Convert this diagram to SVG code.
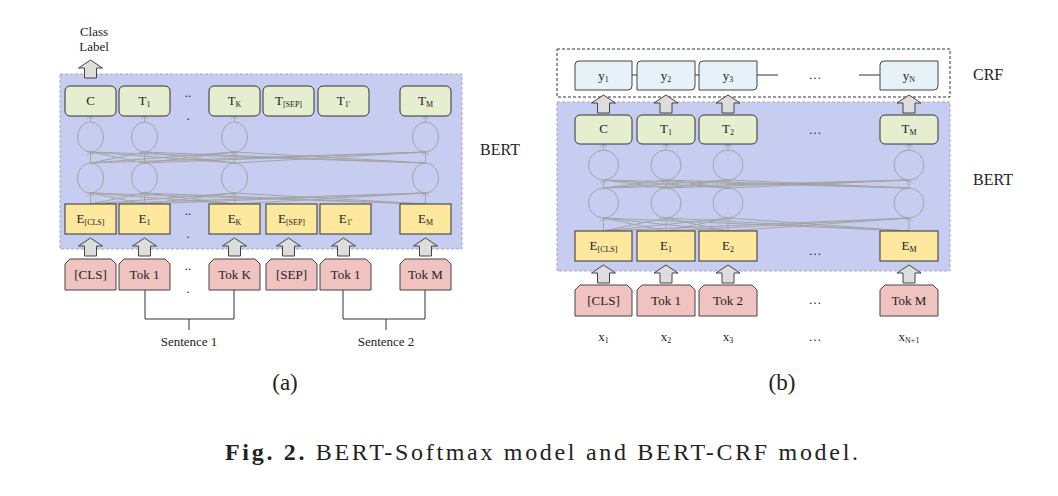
<svg xmlns="http://www.w3.org/2000/svg" xmlns:xlink="http://www.w3.org/1999/xlink" width="1058" height="496" viewBox="0 0 1058 496" font-family="'Liberation Serif', 'Times New Roman', serif">
<style>
text{font-family:'Liberation Serif','Times New Roman',serif;fill:#222}
.n{font-size:13px;text-anchor:middle}
.sub{font-size:8px}
.blue{fill:#c6cdf0;stroke:#aaa;stroke-dasharray:3,2}
.tb{fill:#e5efcf;stroke:#333;stroke-width:1}
.eb{fill:#fde89e;stroke:#333;stroke-width:1}
.kb{fill:#f0c2c0;stroke:#444;stroke-width:1}
.yb{fill:#e6f2f8;stroke:#444;stroke-width:1}
.c{fill:none;stroke:#a4a4a4;stroke-width:1}
.l{stroke:#a4a4a4;stroke-width:1}
.lab{font-size:16px}
</style>
<defs>
<path id="ba" d="M-6,16 V6 H-12 L0,-2 L12,6 H6 V16 Z" fill="#ddd" stroke="#444" stroke-width="1"/>
</defs>
<rect width="1058" height="496" fill="#fff"/>
<g id="a-bert"><rect class="blue" x="60" y="74" width="402" height="175"/></g>
<g id="b-crf"><rect x="557" y="49" width="393" height="48" fill="#fff" stroke="#333" stroke-dasharray="3,2"/></g>
<g id="b-bert"><rect class="blue" x="557" y="102" width="393" height="169"/></g>
<g id="connectors">
<g class="l" fill="none">
<path d="M90.5,204 L90.5,193 M90.5,204 L144.5,193 M90.5,204 L234.5,193 M90.5,204 L425.5,193 M144.5,204 L90.5,193 M144.5,204 L144.5,193 M144.5,204 L234.5,193 M144.5,204 L425.5,193 M234.5,204 L90.5,193 M234.5,204 L144.5,193 M234.5,204 L234.5,193 M234.5,204 L425.5,193 M425.5,204 L90.5,193 M425.5,204 L144.5,193 M425.5,204 L234.5,193 M425.5,204 L425.5,193"/>
<path d="M90.5,163 L90.5,152 M90.5,163 L144.5,152 M90.5,163 L234.5,152 M90.5,163 L425.5,152 M144.5,163 L90.5,152 M144.5,163 L144.5,152 M144.5,163 L234.5,152 M144.5,163 L425.5,152 M234.5,163 L90.5,152 M234.5,163 L144.5,152 M234.5,163 L234.5,152 M234.5,163 L425.5,152 M425.5,163 L90.5,152 M425.5,163 L144.5,152 M425.5,163 L234.5,152 M425.5,163 L425.5,152"/>
<path d="M90.5,122 V116 M144.5,122 V116 M234.5,122 V116 M425.5,122 V116"/>
<path d="M87,119 L90.5,116 L94,119 M141,119 L144.5,116 L148,119 M231,119 L234.5,116 L238,119 M422,119 L425.5,116 L429,119 M87,155 L90.5,152 L94,155 M141,155 L144.5,152 L148,155 M231,155 L234.5,152 L238,155 M422,155 L425.5,152 L429,155 M87,196 L90.5,193 L94,196 M141,196 L144.5,193 L148,196 M231,196 L234.5,193 L238,196 M422,196 L425.5,193 L429,196"/>
<path d="M603.5,231 L603.5,218 M603.5,231 L666,218 M603.5,231 L728,218 M603.5,231 L909,218 M666,231 L603.5,218 M666,231 L666,218 M666,231 L728,218 M666,231 L909,218 M728,231 L603.5,218 M728,231 L666,218 M728,231 L728,218 M728,231 L909,218 M909,231 L603.5,218 M909,231 L666,218 M909,231 L728,218 M909,231 L909,218"/>
<path d="M603.5,188 L603.5,180 M603.5,188 L666,180 M603.5,188 L728,180 M603.5,188 L909,180 M666,188 L603.5,180 M666,188 L666,180 M666,188 L728,180 M666,188 L909,180 M728,188 L603.5,180 M728,188 L666,180 M728,188 L728,180 M728,188 L909,180 M909,188 L603.5,180 M909,188 L666,180 M909,188 L728,180 M909,188 L909,180"/>
<path d="M603.5,150 V144 M666,150 V144 M728,150 V144 M909,150 V144"/>
<path d="M600,147 L603.5,144 L607,147 M662.5,147 L666,144 L669.5,147 M724.5,147 L728,144 L731.5,147 M905.5,147 L909,144 L912.5,147 M600,183 L603.5,180 L607,183 M662.5,183 L666,180 L669.5,183 M724.5,183 L728,180 L731.5,183 M905.5,183 L909,180 L912.5,183 M600,221 L603.5,218 L607,221 M662.5,221 L666,218 L669.5,221 M724.5,221 L728,218 L731.5,221 M905.5,221 L909,218 L912.5,221"/>
</g>
<g stroke="#333" stroke-width="1" fill="none">
<path d="M145,290 V319 H234 V290 M189,319 V330"/>
<path d="M343,290 V319 H425 V290 M386,319 V330"/>
<path d="M632,75 H637 M695,75 H699 M757,75 H778 M859,75 H880"/>
</g>
<g>
<use xlink:href="#ba" x="90.5" y="62"/>
<use xlink:href="#ba" x="90.5" y="240"/><use xlink:href="#ba" x="144.5" y="240"/><use xlink:href="#ba" x="234.5" y="240"/><use xlink:href="#ba" x="288.5" y="240"/><use xlink:href="#ba" x="343.5" y="240"/><use xlink:href="#ba" x="425.5" y="240"/>
<use xlink:href="#ba" x="603.5" y="97"/><use xlink:href="#ba" x="666" y="97"/><use xlink:href="#ba" x="728" y="97"/><use xlink:href="#ba" x="909" y="97"/>
<use xlink:href="#ba" x="603.5" y="267"/><use xlink:href="#ba" x="666" y="267"/><use xlink:href="#ba" x="728" y="267"/><use xlink:href="#ba" x="909" y="267"/>
</g>
</g>
<g id="a-circles">
<ellipse class="c" cx="90.5" cy="137" rx="13" ry="15"/><ellipse class="c" cx="144.5" cy="137" rx="13" ry="15"/><ellipse class="c" cx="234.5" cy="137" rx="13" ry="15"/><ellipse class="c" cx="425.5" cy="137" rx="13" ry="15"/>
<ellipse class="c" cx="90.5" cy="178" rx="13" ry="15"/><ellipse class="c" cx="144.5" cy="178" rx="13" ry="15"/><ellipse class="c" cx="234.5" cy="178" rx="13" ry="15"/><ellipse class="c" cx="425.5" cy="178" rx="13" ry="15"/>
</g>
<g id="a-T">
<rect class="tb" x="65" y="86" width="51" height="30" rx="5"/><text class="n" x="90.5" y="105">C</text>
<rect class="tb" x="119" y="86" width="51" height="30" rx="5"/><text class="n" x="144.5" y="105">T<tspan class="sub" dy="2">1</tspan></text>
<rect class="tb" x="209" y="86" width="51" height="30" rx="5"/><text class="n" x="234.5" y="105">T<tspan class="sub" dy="2">K</tspan></text>
<rect class="tb" x="263" y="86" width="51" height="30" rx="5"/><text class="n" x="288.5" y="105">T<tspan class="sub" dy="2">[SEP]</tspan></text>
<rect class="tb" x="318" y="86" width="51" height="30" rx="5"/><text class="n" x="343.5" y="105">T<tspan class="sub" dy="2">1'</tspan></text>
<rect class="tb" x="400" y="86" width="51" height="30" rx="5"/><text class="n" x="425.5" y="105">T<tspan class="sub" dy="2">M</tspan></text>
</g>
<g id="a-E">
<rect class="eb" x="65" y="204" width="51" height="30"/><text class="n" x="90.5" y="223">E<tspan class="sub" dy="2">[CLS]</tspan></text>
<rect class="eb" x="119" y="204" width="51" height="30"/><text class="n" x="144.5" y="223">E<tspan class="sub" dy="2">1</tspan></text>
<rect class="eb" x="209" y="204" width="51" height="30"/><text class="n" x="234.5" y="223">E<tspan class="sub" dy="2">K</tspan></text>
<rect class="eb" x="266" y="204" width="51" height="30"/><text class="n" x="291.5" y="223">E<tspan class="sub" dy="2">[SEP]</tspan></text>
<rect class="eb" x="320" y="204" width="51" height="30"/><text class="n" x="345.5" y="223">E<tspan class="sub" dy="2">1'</tspan></text>
<rect class="eb" x="400" y="204" width="51" height="30"/><text class="n" x="425.5" y="223">E<tspan class="sub" dy="2">M</tspan></text>
</g>
<g id="a-tok">
<path class="kb" d="M65,290 V264 L70,259 H111 L116,264 V290 Z"/><text class="n" x="90.5" y="279">[CLS]</text>
<path class="kb" d="M119,290 V264 L124,259 H165 L170,264 V290 Z"/><text class="n" x="144.5" y="279">Tok 1</text>
<path class="kb" d="M209,290 V264 L214,259 H255 L260,264 V290 Z"/><text class="n" x="234.5" y="279">Tok K</text>
<path class="kb" d="M266,290 V264 L271,259 H312 L317,264 V290 Z"/><text class="n" x="291.5" y="279">[SEP]</text>
<path class="kb" d="M320,290 V264 L325,259 H366 L371,264 V290 Z"/><text class="n" x="345.5" y="279">Tok 1</text>
<path class="kb" d="M400,290 V264 L405,259 H446 L451,264 V290 Z"/><text class="n" x="425.5" y="279">Tok M</text>
</g>
<g id="a-labels">
<text class="n" x="94" y="36">Class</text><text class="n" x="94" y="51">Label</text>
<text class="n" x="188" y="97">..</text><text class="n" x="188" y="120">.</text>
<text class="n" x="188" y="215">..</text><text class="n" x="188" y="238">.</text>
<text class="n" x="188" y="270">..</text><text class="n" x="188" y="293">.</text>
<text class="n" x="189" y="346">Sentence 1</text>
<text class="n" x="386" y="346">Sentence 2</text>
<text class="lab" x="480" y="155">BERT</text>
<text x="285" y="390" style="font-size:23px;text-anchor:middle">(a)</text>
</g>
<g id="b-y">
<path class="yb" d="M575,90 V65 Q575,61 579,61 H632 V86 Q632,90 628,90 Z"/><text class="n" x="603.5" y="80">y<tspan class="sub" dy="2">1</tspan></text>
<path class="yb" d="M637,90 V65 Q637,61 641,61 H695 V86 Q695,90 691,90 Z"/><text class="n" x="666" y="80">y<tspan class="sub" dy="2">2</tspan></text>
<path class="yb" d="M699,90 V65 Q699,61 703,61 H757 V86 Q757,90 753,90 Z"/><text class="n" x="728" y="80">y<tspan class="sub" dy="2">3</tspan></text>
<path class="yb" d="M880,90 V65 Q880,61 884,61 H938 V86 Q938,90 934,90 Z"/><text class="n" x="909" y="80">y<tspan class="sub" dy="2">N</tspan></text>
</g>
<g id="b-circles">
<ellipse class="c" cx="603.5" cy="165" rx="15" ry="15"/><ellipse class="c" cx="666" cy="165" rx="15" ry="15"/><ellipse class="c" cx="728" cy="165" rx="15" ry="15"/><ellipse class="c" cx="909" cy="165" rx="15" ry="15"/>
<ellipse class="c" cx="603.5" cy="203" rx="15" ry="15"/><ellipse class="c" cx="666" cy="203" rx="15" ry="15"/><ellipse class="c" cx="728" cy="203" rx="15" ry="15"/><ellipse class="c" cx="909" cy="203" rx="15" ry="15"/>
</g>
<g id="b-T">
<rect class="tb" x="575" y="115" width="57" height="29" rx="5"/><text class="n" x="603.5" y="133">C</text>
<rect class="tb" x="637" y="115" width="58" height="29" rx="5"/><text class="n" x="666" y="133">T<tspan class="sub" dy="2">1</tspan></text>
<rect class="tb" x="699" y="115" width="58" height="29" rx="5"/><text class="n" x="728" y="133">T<tspan class="sub" dy="2">2</tspan></text>
<rect class="tb" x="880" y="115" width="58" height="29" rx="5"/><text class="n" x="909" y="133">T<tspan class="sub" dy="2">M</tspan></text>
</g>
<g id="b-E">
<rect class="eb" x="575" y="231" width="57" height="30"/><text class="n" x="603.5" y="250">E<tspan class="sub" dy="2">[CLS]</tspan></text>
<rect class="eb" x="637" y="231" width="58" height="30"/><text class="n" x="666" y="250">E<tspan class="sub" dy="2">1</tspan></text>
<rect class="eb" x="699" y="231" width="58" height="30"/><text class="n" x="728" y="250">E<tspan class="sub" dy="2">2</tspan></text>
<rect class="eb" x="880" y="231" width="58" height="30"/><text class="n" x="909" y="250">E<tspan class="sub" dy="2">M</tspan></text>
</g>
<g id="b-tok">
<path class="kb" d="M575,316 V290 L580,285 H627 L632,290 V316 Z"/><text class="n" x="603.5" y="305">[CLS]</text>
<path class="kb" d="M637,316 V290 L642,285 H690 L695,290 V316 Z"/><text class="n" x="666" y="305">Tok 1</text>
<path class="kb" d="M699,316 V290 L704,285 H752 L757,290 V316 Z"/><text class="n" x="728" y="305">Tok 2</text>
<path class="kb" d="M880,316 V290 L885,285 H933 L938,290 V316 Z"/><text class="n" x="909" y="305">Tok M</text>
</g>
<g id="b-labels">
<text class="n" x="815" y="79">…</text><text class="n" x="815" y="134">…</text><text class="n" x="815" y="255">…</text><text class="n" x="815" y="304">…</text><text class="n" x="815" y="341">…</text>
<text class="n" x="603.5" y="341">x<tspan class="sub" dy="2">1</tspan></text>
<text class="n" x="666" y="341">x<tspan class="sub" dy="2">2</tspan></text>
<text class="n" x="728" y="341">x<tspan class="sub" dy="2">3</tspan></text>
<text class="n" x="909" y="341">x<tspan class="sub" dy="2">N+1</tspan></text>
<text class="lab" x="973" y="80">CRF</text>
<text class="lab" x="973" y="185">BERT</text>
<text x="782" y="390" style="font-size:23px;text-anchor:middle">(b)</text>
</g>
<text x="225" y="460" textLength="633" lengthAdjust="spacing" style="font-size:24px"><tspan font-weight="bold">Fig. 2.</tspan> BERT-Softmax model and BERT-CRF model.</text>
</svg>
